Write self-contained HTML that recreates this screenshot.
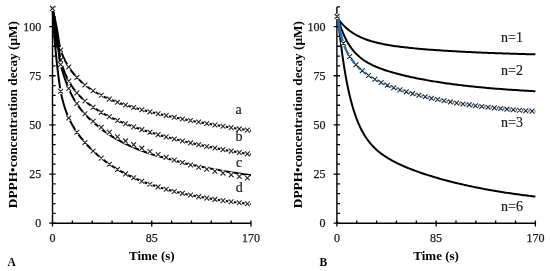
<!DOCTYPE html>
<html><head><meta charset="utf-8"><style>
html,body{margin:0;padding:0;background:#fff;}
body{width:550px;height:271px;overflow:hidden;}
svg{display:block;}
.ax{fill:none;stroke:#000;stroke-width:1.4;}
.tk{fill:none;stroke:#000;stroke-width:1.3;}
.tl{font-family:"Liberation Serif",serif;font-size:12px;fill:#1a1a1a;stroke:#1a1a1a;stroke-width:0.25px;}
.ti{font-family:"Liberation Serif",serif;font-size:13px;font-weight:bold;fill:#000;}
.pl{font-family:"Liberation Serif",serif;font-size:11.5px;font-weight:bold;fill:#000;}
.cl{font-family:"Liberation Serif",serif;font-size:14px;fill:#1a1a1a;stroke:#1a1a1a;stroke-width:0.2px;}
.fl{fill:none;stroke:#000;stroke-width:2;stroke-linejoin:round;}
.bl{fill:none;stroke:#000;stroke-width:2;stroke-linejoin:round;}
.bd{fill:none;stroke:#1f6fc2;stroke-width:2.4;}
.hl{fill:#fff;stroke:none;}
.mk{fill:none;stroke:#262626;stroke-width:1.1;}
</style></head><body>
<svg width="550" height="271" viewBox="0 0 550 271">
<path d="M52.5,6.94V223.2H251.00" class="ax"/>
<path d="M49.2,223.20H55.6M52.5,213.37H55.6M52.5,203.54H55.6M52.5,193.71H55.6M52.5,183.88H55.6M49.2,174.05H55.6M52.5,164.22H55.6M52.5,154.39H55.6M52.5,144.56H55.6M52.5,134.73H55.6M49.2,124.90H55.6M52.5,115.07H55.6M52.5,105.24H55.6M52.5,95.41H55.6M52.5,85.58H55.6M49.2,75.75H55.6M52.5,65.92H55.6M52.5,56.09H55.6M52.5,46.26H55.6M52.5,36.43H55.6M49.2,26.60H55.6M52.5,16.77H55.6M52.5,6.94H55.6M52.50,220.5V226.6M72.35,223.2V220.5M92.20,223.2V220.5M112.05,223.2V220.5M131.90,223.2V220.5M151.75,220.5V226.6M171.60,223.2V220.5M191.45,223.2V220.5M211.30,223.2V220.5M231.15,223.2V220.5M251.00,220.5V226.6" class="tk"/>
<text x="41.2" y="227.3" class="tl" text-anchor="end">0</text>
<text x="41.2" y="178.1" class="tl" text-anchor="end">25</text>
<text x="41.2" y="129.0" class="tl" text-anchor="end">50</text>
<text x="41.2" y="79.8" class="tl" text-anchor="end">75</text>
<text x="41.2" y="30.7" class="tl" text-anchor="end">100</text>
<text x="52.5" y="242.2" class="tl" text-anchor="middle">0</text>
<text x="151.8" y="242.2" class="tl" text-anchor="middle">85</text>
<text x="251.0" y="242.2" class="tl" text-anchor="middle">170</text>
<text x="151.8" y="260.3" class="ti" text-anchor="middle">Time (s)</text>
<path d="M336.9,6.94V223.2H535.40" class="ax"/>
<path d="M333.59999999999997,223.20H340.0M336.9,213.37H340.0M336.9,203.54H340.0M336.9,193.71H340.0M336.9,183.88H340.0M333.59999999999997,174.05H340.0M336.9,164.22H340.0M336.9,154.39H340.0M336.9,144.56H340.0M336.9,134.73H340.0M333.59999999999997,124.90H340.0M336.9,115.07H340.0M336.9,105.24H340.0M336.9,95.41H340.0M336.9,85.58H340.0M333.59999999999997,75.75H340.0M336.9,65.92H340.0M336.9,56.09H340.0M336.9,46.26H340.0M336.9,36.43H340.0M333.59999999999997,26.60H340.0M336.9,16.77H340.0M336.9,6.94H340.0M336.90,220.5V226.6M356.75,223.2V220.5M376.60,223.2V220.5M396.45,223.2V220.5M416.30,223.2V220.5M436.15,220.5V226.6M456.00,223.2V220.5M475.85,223.2V220.5M495.70,223.2V220.5M515.55,223.2V220.5M535.40,220.5V226.6" class="tk"/>
<text x="325.6" y="227.3" class="tl" text-anchor="end">0</text>
<text x="325.6" y="178.1" class="tl" text-anchor="end">25</text>
<text x="325.6" y="129.0" class="tl" text-anchor="end">50</text>
<text x="325.6" y="79.8" class="tl" text-anchor="end">75</text>
<text x="325.6" y="30.7" class="tl" text-anchor="end">100</text>
<text x="336.9" y="242.2" class="tl" text-anchor="middle">0</text>
<text x="436.1" y="242.2" class="tl" text-anchor="middle">85</text>
<text x="535.4" y="242.2" class="tl" text-anchor="middle">170</text>
<text x="436.1" y="260.3" class="ti" text-anchor="middle">Time (s)</text>
<text transform="translate(17.4,114.6) rotate(-90)" class="ti" style="font-size:13.3px" text-anchor="middle">DPPH•concentration decay (μM)</text>
<text transform="translate(301.8,114.6) rotate(-90)" class="ti" style="font-size:13.3px" text-anchor="middle">DPPH•concentration decay (μM)</text>
<text x="7.5" y="265.8" class="pl">A</text>
<text x="319.4" y="265.8" class="pl">B</text>
<path d="M52.50,8.32 L52.71,9.17 L52.92,10.03 L53.13,10.91 L53.34,11.80 L53.55,12.70 L53.76,13.61 L53.97,14.54 L54.18,15.47 L54.39,16.42 L54.60,17.38 L54.81,18.35 L55.01,19.33 L55.22,20.32 L55.43,21.32 L55.64,22.34 L55.85,23.36 L56.06,24.39 L56.27,25.43 L56.48,26.48 L56.69,27.57 L56.90,28.72 L57.11,29.92 L57.32,31.17 L57.53,32.45 L57.74,33.77 L57.95,35.10 L58.16,36.45 L58.37,37.79 L58.58,39.13 L58.79,40.45 L59.00,41.75 L59.21,43.01 L59.42,44.23 L59.63,45.40 L59.84,46.50 L60.04,47.54 L60.25,48.50 L60.46,49.37 L60.67,50.15 L61.06,51.25 L61.45,52.31 L61.84,53.33 L62.23,54.31 L62.62,55.26 L63.01,56.18 L63.40,57.06 L63.79,57.92 L64.18,58.75 L64.57,59.56 L64.95,60.35 L65.34,61.11 L65.73,61.85 L66.12,62.57 L66.51,63.27 L66.90,63.96 L67.29,64.63 L67.68,65.28 L68.07,65.91 L68.46,66.54 L68.85,67.15 L69.24,67.74 L69.63,68.33 L70.01,68.90 L70.40,69.46 L70.79,70.01 L71.18,70.54 L71.57,71.07 L71.96,71.59 L72.35,72.10 L72.74,72.60 L73.13,73.09 L73.52,73.57 L73.91,74.05 L74.30,74.51 L74.69,74.97 L75.07,75.42 L75.46,75.87 L75.85,76.30 L77.32,77.90 L78.80,79.40 L80.27,80.83 L81.74,82.18 L83.21,83.47 L84.68,84.69 L86.16,85.86 L87.63,86.98 L89.10,88.04 L90.57,89.06 L92.04,90.04 L93.51,90.97 L94.99,91.87 L96.46,92.74 L97.93,93.57 L99.40,94.37 L100.87,95.14 L102.35,95.88 L103.82,96.60 L105.29,97.29 L106.76,97.97 L108.23,98.62 L109.70,99.25 L111.18,99.86 L112.65,100.46 L114.12,101.03 L115.59,101.60 L117.06,102.15 L118.54,102.68 L120.01,103.20 L121.48,103.71 L122.95,104.21 L124.42,104.69 L125.89,105.17 L127.37,105.63 L128.84,106.09 L130.31,106.54 L131.78,106.98 L133.25,107.41 L134.73,107.83 L136.20,108.25 L137.67,108.66 L139.14,109.06 L140.61,109.46 L142.09,109.85 L143.56,110.24 L145.03,110.62 L146.50,110.99 L147.97,111.36 L149.44,111.73 L150.92,112.09 L152.39,112.45 L153.86,112.80 L155.33,113.15 L156.80,113.49 L158.28,113.83 L159.75,114.17 L161.22,114.50 L162.69,114.83 L164.16,115.16 L165.63,115.49 L167.11,115.81 L168.58,116.12 L170.05,116.44 L171.52,116.75 L172.99,117.06 L174.47,117.37 L175.94,117.67 L177.41,117.97 L178.88,118.27 L180.35,118.57 L181.82,118.87 L183.30,119.16 L184.77,119.45 L186.24,119.74 L187.71,120.02 L189.18,120.31 L190.66,120.59 L192.13,120.87 L193.60,121.14 L195.07,121.42 L196.54,121.69 L198.01,121.96 L199.49,122.23 L200.96,122.50 L202.43,122.77 L203.90,123.03 L205.37,123.30 L206.85,123.56 L208.32,123.82 L209.79,124.07 L211.26,124.33 L212.73,124.58 L214.20,124.83 L215.68,125.09 L217.15,125.33 L218.62,125.58 L220.09,125.83 L221.56,126.07 L223.04,126.31 L224.51,126.56 L225.98,126.80 L227.45,127.03 L228.92,127.27 L230.39,127.51 L231.87,127.74 L233.34,127.97 L234.81,128.20 L236.28,128.43 L237.75,128.66 L239.23,128.89 L240.70,129.11 L242.17,129.34 L243.64,129.56 L245.11,129.78 L246.58,130.00 L248.06,130.22 L249.53,130.43 L251.00,130.65" class="fl"/>
<path class="hl" d="M57.67,49.99a2.95,2.95 0 1,0 5.9,0a2.95,2.95 0 1,0 -5.9,0ZM65.79,66.98a2.95,2.95 0 1,0 5.9,0a2.95,2.95 0 1,0 -5.9,0ZM73.91,77.40a2.95,2.95 0 1,0 5.9,0a2.95,2.95 0 1,0 -5.9,0ZM82.03,84.93a2.95,2.95 0 1,0 5.9,0a2.95,2.95 0 1,0 -5.9,0ZM90.15,90.71a2.95,2.95 0 1,0 5.9,0a2.95,2.95 0 1,0 -5.9,0ZM98.27,95.32a2.95,2.95 0 1,0 5.9,0a2.95,2.95 0 1,0 -5.9,0ZM106.39,99.09a2.95,2.95 0 1,0 5.9,0a2.95,2.95 0 1,0 -5.9,0ZM114.51,102.29a2.95,2.95 0 1,0 5.9,0a2.95,2.95 0 1,0 -5.9,0ZM122.63,105.07a2.95,2.95 0 1,0 5.9,0a2.95,2.95 0 1,0 -5.9,0ZM130.75,107.54a2.95,2.95 0 1,0 5.9,0a2.95,2.95 0 1,0 -5.9,0ZM138.87,109.78a2.95,2.95 0 1,0 5.9,0a2.95,2.95 0 1,0 -5.9,0ZM146.99,111.85a2.95,2.95 0 1,0 5.9,0a2.95,2.95 0 1,0 -5.9,0ZM155.11,113.78a2.95,2.95 0 1,0 5.9,0a2.95,2.95 0 1,0 -5.9,0ZM163.23,115.60a2.95,2.95 0 1,0 5.9,0a2.95,2.95 0 1,0 -5.9,0ZM171.35,117.33a2.95,2.95 0 1,0 5.9,0a2.95,2.95 0 1,0 -5.9,0ZM179.47,118.98a2.95,2.95 0 1,0 5.9,0a2.95,2.95 0 1,0 -5.9,0ZM187.59,120.56a2.95,2.95 0 1,0 5.9,0a2.95,2.95 0 1,0 -5.9,0ZM195.71,122.08a2.95,2.95 0 1,0 5.9,0a2.95,2.95 0 1,0 -5.9,0ZM203.83,123.54a2.95,2.95 0 1,0 5.9,0a2.95,2.95 0 1,0 -5.9,0ZM211.95,124.95a2.95,2.95 0 1,0 5.9,0a2.95,2.95 0 1,0 -5.9,0ZM220.07,126.31a2.95,2.95 0 1,0 5.9,0a2.95,2.95 0 1,0 -5.9,0ZM228.19,127.62a2.95,2.95 0 1,0 5.9,0a2.95,2.95 0 1,0 -5.9,0ZM236.31,128.89a2.95,2.95 0 1,0 5.9,0a2.95,2.95 0 1,0 -5.9,0ZM244.43,130.12a2.95,2.95 0 1,0 5.9,0a2.95,2.95 0 1,0 -5.9,0Z"/>
<path d="M58.22,47.59L63.02,52.39M58.22,52.39L63.02,47.59M66.34,64.58L71.14,69.38M66.34,69.38L71.14,64.58M74.46,75.00L79.26,79.80M74.46,79.80L79.26,75.00M82.58,82.53L87.38,87.33M82.58,87.33L87.38,82.53M90.70,88.31L95.50,93.11M90.70,93.11L95.50,88.31M98.82,92.92L103.62,97.72M98.82,97.72L103.62,92.92M106.94,96.69L111.74,101.49M106.94,101.49L111.74,96.69M115.06,99.89L119.86,104.69M115.06,104.69L119.86,99.89M123.18,102.67L127.98,107.47M123.18,107.47L127.98,102.67M131.30,105.14L136.10,109.94M131.30,109.94L136.10,105.14M139.42,107.38L144.22,112.18M139.42,112.18L144.22,107.38M147.54,109.45L152.34,114.25M147.54,114.25L152.34,109.45M155.66,111.38L160.46,116.18M155.66,116.18L160.46,111.38M163.78,113.20L168.58,118.00M163.78,118.00L168.58,113.20M171.90,114.93L176.70,119.73M171.90,119.73L176.70,114.93M180.02,116.58L184.82,121.38M180.02,121.38L184.82,116.58M188.14,118.16L192.94,122.96M188.14,122.96L192.94,118.16M196.26,119.68L201.06,124.48M196.26,124.48L201.06,119.68M204.38,121.14L209.18,125.94M204.38,125.94L209.18,121.14M212.50,122.55L217.30,127.35M212.50,127.35L217.30,122.55M220.62,123.91L225.42,128.71M220.62,128.71L225.42,123.91M228.74,125.22L233.54,130.02M228.74,130.02L233.54,125.22M236.86,126.49L241.66,131.29M236.86,131.29L241.66,126.49M244.98,127.72L249.78,132.52M244.98,132.52L249.78,127.72" class="mk"/>
<path d="M52.50,8.32 L52.71,9.37 L52.92,10.44 L53.13,11.52 L53.34,12.61 L53.55,13.72 L53.76,14.85 L53.97,15.98 L54.18,17.14 L54.39,18.31 L54.60,19.49 L54.81,20.69 L55.01,21.90 L55.22,23.13 L55.43,24.37 L55.64,25.63 L55.85,26.90 L56.06,28.23 L56.27,29.62 L56.48,31.07 L56.69,32.57 L56.90,34.10 L57.11,35.68 L57.32,37.27 L57.53,38.89 L57.74,40.52 L57.95,42.15 L58.16,43.77 L58.37,45.38 L58.58,46.97 L58.79,48.54 L59.00,50.07 L59.21,51.55 L59.42,52.99 L59.63,54.36 L59.84,55.68 L60.04,56.91 L60.25,58.07 L60.46,59.13 L60.67,60.10 L61.06,61.53 L61.45,62.89 L61.84,64.20 L62.23,65.46 L62.62,66.68 L63.01,67.84 L63.40,68.97 L63.79,70.05 L64.18,71.10 L64.57,72.11 L64.95,73.09 L65.34,74.03 L65.73,74.94 L66.12,75.83 L66.51,76.68 L66.90,77.51 L67.29,78.32 L67.68,79.10 L68.07,79.86 L68.46,80.60 L68.85,81.32 L69.24,82.02 L69.63,82.70 L70.01,83.36 L70.40,84.01 L70.79,84.64 L71.18,85.25 L71.57,85.85 L71.96,86.44 L72.35,87.02 L72.74,87.58 L73.13,88.13 L73.52,88.67 L73.91,89.19 L74.30,89.71 L74.69,90.22 L75.07,90.71 L75.46,91.20 L75.85,91.68 L77.32,93.41 L78.80,95.04 L80.27,96.57 L81.74,98.02 L83.21,99.40 L84.68,100.71 L86.16,101.96 L87.63,103.16 L89.10,104.31 L90.57,105.42 L92.04,106.48 L93.51,107.50 L94.99,108.49 L96.46,109.45 L97.93,110.37 L99.40,111.27 L100.87,112.14 L102.35,112.98 L103.82,113.80 L105.29,114.60 L106.76,115.37 L108.23,116.13 L109.70,116.87 L111.18,117.59 L112.65,118.29 L114.12,118.97 L115.59,119.64 L117.06,120.30 L118.54,120.94 L120.01,121.57 L121.48,122.18 L122.95,122.79 L124.42,123.38 L125.89,123.96 L127.37,124.53 L128.84,125.09 L130.31,125.64 L131.78,126.18 L133.25,126.71 L134.73,127.24 L136.20,127.75 L137.67,128.26 L139.14,128.76 L140.61,129.25 L142.09,129.74 L143.56,130.22 L145.03,130.69 L146.50,131.16 L147.97,131.62 L149.44,132.07 L150.92,132.52 L152.39,132.96 L153.86,133.40 L155.33,133.83 L156.80,134.26 L158.28,134.68 L159.75,135.10 L161.22,135.51 L162.69,135.92 L164.16,136.32 L165.63,136.72 L167.11,137.12 L168.58,137.51 L170.05,137.89 L171.52,138.28 L172.99,138.66 L174.47,139.03 L175.94,139.40 L177.41,139.77 L178.88,140.13 L180.35,140.49 L181.82,140.85 L183.30,141.20 L184.77,141.55 L186.24,141.90 L187.71,142.24 L189.18,142.58 L190.66,142.92 L192.13,143.25 L193.60,143.58 L195.07,143.91 L196.54,144.24 L198.01,144.56 L199.49,144.88 L200.96,145.19 L202.43,145.51 L203.90,145.82 L205.37,146.12 L206.85,146.43 L208.32,146.73 L209.79,147.03 L211.26,147.33 L212.73,147.62 L214.20,147.91 L215.68,148.20 L217.15,148.49 L218.62,148.77 L220.09,149.06 L221.56,149.33 L223.04,149.61 L224.51,149.89 L225.98,150.16 L227.45,150.43 L228.92,150.70 L230.39,150.96 L231.87,151.22 L233.34,151.48 L234.81,151.74 L236.28,152.00 L237.75,152.25 L239.23,152.51 L240.70,152.76 L242.17,153.00 L243.64,153.25 L245.11,153.49 L246.58,153.73 L248.06,153.97 L249.53,154.21 L251.00,154.45" class="fl"/>
<path class="hl" d="M57.67,59.90a2.95,2.95 0 1,0 5.9,0a2.95,2.95 0 1,0 -5.9,0ZM65.79,81.12a2.95,2.95 0 1,0 5.9,0a2.95,2.95 0 1,0 -5.9,0ZM73.91,92.88a2.95,2.95 0 1,0 5.9,0a2.95,2.95 0 1,0 -5.9,0ZM82.03,100.97a2.95,2.95 0 1,0 5.9,0a2.95,2.95 0 1,0 -5.9,0ZM90.15,107.22a2.95,2.95 0 1,0 5.9,0a2.95,2.95 0 1,0 -5.9,0ZM98.27,112.34a2.95,2.95 0 1,0 5.9,0a2.95,2.95 0 1,0 -5.9,0ZM106.39,116.69a2.95,2.95 0 1,0 5.9,0a2.95,2.95 0 1,0 -5.9,0ZM114.51,120.47a2.95,2.95 0 1,0 5.9,0a2.95,2.95 0 1,0 -5.9,0ZM122.63,123.83a2.95,2.95 0 1,0 5.9,0a2.95,2.95 0 1,0 -5.9,0ZM130.75,126.87a2.95,2.95 0 1,0 5.9,0a2.95,2.95 0 1,0 -5.9,0ZM138.87,129.65a2.95,2.95 0 1,0 5.9,0a2.95,2.95 0 1,0 -5.9,0ZM146.99,132.22a2.95,2.95 0 1,0 5.9,0a2.95,2.95 0 1,0 -5.9,0ZM155.11,134.62a2.95,2.95 0 1,0 5.9,0a2.95,2.95 0 1,0 -5.9,0ZM163.23,136.87a2.95,2.95 0 1,0 5.9,0a2.95,2.95 0 1,0 -5.9,0ZM171.35,138.99a2.95,2.95 0 1,0 5.9,0a2.95,2.95 0 1,0 -5.9,0ZM179.47,140.99a2.95,2.95 0 1,0 5.9,0a2.95,2.95 0 1,0 -5.9,0ZM187.59,142.89a2.95,2.95 0 1,0 5.9,0a2.95,2.95 0 1,0 -5.9,0ZM195.71,144.70a2.95,2.95 0 1,0 5.9,0a2.95,2.95 0 1,0 -5.9,0ZM203.83,146.42a2.95,2.95 0 1,0 5.9,0a2.95,2.95 0 1,0 -5.9,0ZM211.95,148.05a2.95,2.95 0 1,0 5.9,0a2.95,2.95 0 1,0 -5.9,0ZM220.07,149.61a2.95,2.95 0 1,0 5.9,0a2.95,2.95 0 1,0 -5.9,0ZM228.19,151.09a2.95,2.95 0 1,0 5.9,0a2.95,2.95 0 1,0 -5.9,0ZM236.31,152.51a2.95,2.95 0 1,0 5.9,0a2.95,2.95 0 1,0 -5.9,0ZM244.43,153.86a2.95,2.95 0 1,0 5.9,0a2.95,2.95 0 1,0 -5.9,0Z"/>
<path d="M58.22,57.50L63.02,62.30M58.22,62.30L63.02,57.50M66.34,78.72L71.14,83.52M66.34,83.52L71.14,78.72M74.46,90.48L79.26,95.28M74.46,95.28L79.26,90.48M82.58,98.57L87.38,103.37M82.58,103.37L87.38,98.57M90.70,104.82L95.50,109.62M90.70,109.62L95.50,104.82M98.82,109.94L103.62,114.74M98.82,114.74L103.62,109.94M106.94,114.29L111.74,119.09M106.94,119.09L111.74,114.29M115.06,118.07L119.86,122.87M115.06,122.87L119.86,118.07M123.18,121.43L127.98,126.23M123.18,126.23L127.98,121.43M131.30,124.47L136.10,129.27M131.30,129.27L136.10,124.47M139.42,127.25L144.22,132.05M139.42,132.05L144.22,127.25M147.54,129.82L152.34,134.62M147.54,134.62L152.34,129.82M155.66,132.22L160.46,137.02M155.66,137.02L160.46,132.22M163.78,134.47L168.58,139.27M163.78,139.27L168.58,134.47M171.90,136.59L176.70,141.39M171.90,141.39L176.70,136.59M180.02,138.59L184.82,143.39M180.02,143.39L184.82,138.59M188.14,140.49L192.94,145.29M188.14,145.29L192.94,140.49M196.26,142.30L201.06,147.10M196.26,147.10L201.06,142.30M204.38,144.02L209.18,148.82M204.38,148.82L209.18,144.02M212.50,145.65L217.30,150.45M212.50,150.45L217.30,145.65M220.62,147.21L225.42,152.01M220.62,152.01L225.42,147.21M228.74,148.69L233.54,153.49M228.74,153.49L233.54,148.69M236.86,150.11L241.66,154.91M236.86,154.91L241.66,150.11M244.98,151.46L249.78,156.26M244.98,156.26L249.78,151.46" class="mk"/>
<path d="M52.50,8.32 L52.71,9.64 L52.92,10.98 L53.13,12.32 L53.34,13.66 L53.55,15.01 L53.76,16.37 L53.97,17.73 L54.18,19.10 L54.39,20.48 L54.60,21.87 L54.81,23.26 L55.01,24.66 L55.22,26.07 L55.43,27.50 L55.64,28.98 L55.85,30.50 L56.06,32.06 L56.27,33.65 L56.48,35.27 L56.69,36.91 L56.90,38.57 L57.11,40.24 L57.32,41.91 L57.53,43.59 L57.74,45.25 L57.95,46.91 L58.16,48.54 L58.37,50.16 L58.58,51.74 L58.79,53.29 L59.00,54.80 L59.21,56.27 L59.42,57.68 L59.63,59.03 L59.84,60.33 L60.04,61.55 L60.25,62.70 L60.46,63.77 L60.67,64.76 L61.06,66.26 L61.45,67.68 L61.84,69.06 L62.23,70.41 L62.62,71.72 L63.01,73.00 L63.40,74.25 L63.79,75.47 L64.18,76.66 L64.57,77.83 L64.95,78.96 L65.34,80.07 L65.73,81.15 L66.12,82.21 L66.51,83.24 L66.90,84.25 L67.29,85.24 L67.68,86.20 L68.07,87.14 L68.46,88.06 L68.85,88.96 L69.24,89.84 L69.63,90.70 L70.01,91.55 L70.40,92.37 L70.79,93.18 L71.18,93.97 L71.57,94.74 L71.96,95.50 L72.35,96.24 L72.74,96.97 L73.13,97.68 L73.52,98.38 L73.91,99.07 L74.30,99.74 L74.69,100.40 L75.07,101.04 L75.46,101.68 L75.85,102.30 L77.32,104.55 L78.80,106.65 L80.27,108.62 L81.74,110.48 L83.21,112.24 L84.68,113.90 L86.16,115.48 L87.63,116.99 L89.10,118.43 L90.57,119.81 L92.04,121.14 L93.51,122.42 L94.99,123.66 L96.46,124.87 L97.93,126.08 L99.40,127.29 L100.87,128.49 L102.35,129.68 L103.82,130.84 L105.29,131.96 L106.76,133.03 L108.23,134.06 L109.70,135.01 L111.18,135.93 L112.65,136.82 L114.12,137.69 L115.59,138.54 L117.06,139.37 L118.54,140.18 L120.01,140.97 L121.48,141.75 L122.95,142.50 L124.42,143.23 L125.89,143.94 L127.37,144.64 L128.84,145.32 L130.31,145.98 L131.78,146.63 L133.25,147.27 L134.73,147.90 L136.20,148.52 L137.67,149.12 L139.14,149.72 L140.61,150.30 L142.09,150.87 L143.56,151.42 L145.03,151.96 L146.50,152.48 L147.97,152.99 L149.44,153.48 L150.92,153.97 L152.39,154.44 L153.86,154.91 L155.33,155.37 L156.80,155.80 L158.28,156.21 L159.75,156.59 L161.22,156.96 L162.69,157.32 L164.16,157.67 L165.63,158.03 L167.11,158.39 L168.58,158.77 L170.05,159.17 L171.52,159.59 L172.99,160.02 L174.47,160.44 L175.94,160.87 L177.41,161.30 L178.88,161.73 L180.35,162.14 L181.82,162.56 L183.30,162.96 L184.77,163.35 L186.24,163.73 L187.71,164.09 L189.18,164.42 L190.66,164.73 L192.13,165.03 L193.60,165.31 L195.07,165.58 L196.54,165.84 L198.01,166.10 L199.49,166.36 L200.96,166.63 L202.43,166.91 L203.90,167.20 L205.37,167.50 L206.85,167.79 L208.32,168.08 L209.79,168.38 L211.26,168.67 L212.73,168.96 L214.20,169.24 L215.68,169.53 L217.15,169.81 L218.62,170.09 L220.09,170.37 L221.56,170.64 L223.04,170.90 L224.51,171.17 L225.98,171.42 L227.45,171.67 L228.92,171.92 L230.39,172.16 L231.87,172.40 L233.34,172.63 L234.81,172.86 L236.28,173.09 L237.75,173.31 L239.23,173.53 L240.70,173.75 L242.17,173.96 L243.64,174.17 L245.11,174.38 L246.58,174.58 L248.06,174.78 L249.53,174.98 L251.00,175.17" class="fl"/>
<path class="hl" d="M57.67,64.55a2.95,2.95 0 1,0 5.9,0a2.95,2.95 0 1,0 -5.9,0ZM65.79,88.55a2.95,2.95 0 1,0 5.9,0a2.95,2.95 0 1,0 -5.9,0ZM73.91,103.53a2.95,2.95 0 1,0 5.9,0a2.95,2.95 0 1,0 -5.9,0ZM82.03,113.69a2.95,2.95 0 1,0 5.9,0a2.95,2.95 0 1,0 -5.9,0ZM90.15,121.20a2.95,2.95 0 1,0 5.9,0a2.95,2.95 0 1,0 -5.9,0ZM98.27,127.21a2.95,2.95 0 1,0 5.9,0a2.95,2.95 0 1,0 -5.9,0ZM106.39,132.30a2.95,2.95 0 1,0 5.9,0a2.95,2.95 0 1,0 -5.9,0ZM114.51,136.81a2.95,2.95 0 1,0 5.9,0a2.95,2.95 0 1,0 -5.9,0ZM122.63,140.89a2.95,2.95 0 1,0 5.9,0a2.95,2.95 0 1,0 -5.9,0ZM130.75,144.66a2.95,2.95 0 1,0 5.9,0a2.95,2.95 0 1,0 -5.9,0ZM138.87,148.15a2.95,2.95 0 1,0 5.9,0a2.95,2.95 0 1,0 -5.9,0ZM146.99,151.42a2.95,2.95 0 1,0 5.9,0a2.95,2.95 0 1,0 -5.9,0ZM155.11,154.48a2.95,2.95 0 1,0 5.9,0a2.95,2.95 0 1,0 -5.9,0ZM163.23,157.35a2.95,2.95 0 1,0 5.9,0a2.95,2.95 0 1,0 -5.9,0ZM171.35,160.04a2.95,2.95 0 1,0 5.9,0a2.95,2.95 0 1,0 -5.9,0ZM179.47,162.57a2.95,2.95 0 1,0 5.9,0a2.95,2.95 0 1,0 -5.9,0ZM187.59,164.95a2.95,2.95 0 1,0 5.9,0a2.95,2.95 0 1,0 -5.9,0ZM195.71,167.18a2.95,2.95 0 1,0 5.9,0a2.95,2.95 0 1,0 -5.9,0ZM203.83,169.28a2.95,2.95 0 1,0 5.9,0a2.95,2.95 0 1,0 -5.9,0ZM211.95,171.25a2.95,2.95 0 1,0 5.9,0a2.95,2.95 0 1,0 -5.9,0ZM220.07,173.10a2.95,2.95 0 1,0 5.9,0a2.95,2.95 0 1,0 -5.9,0ZM228.19,174.84a2.95,2.95 0 1,0 5.9,0a2.95,2.95 0 1,0 -5.9,0ZM236.31,176.48a2.95,2.95 0 1,0 5.9,0a2.95,2.95 0 1,0 -5.9,0ZM244.43,178.02a2.95,2.95 0 1,0 5.9,0a2.95,2.95 0 1,0 -5.9,0Z"/>
<path d="M58.22,62.15L63.02,66.95M58.22,66.95L63.02,62.15M66.34,86.15L71.14,90.95M66.34,90.95L71.14,86.15M74.46,101.13L79.26,105.93M74.46,105.93L79.26,101.13M82.58,111.29L87.38,116.09M82.58,116.09L87.38,111.29M90.70,118.80L95.50,123.60M90.70,123.60L95.50,118.80M98.82,124.81L103.62,129.61M98.82,129.61L103.62,124.81M106.94,129.90L111.74,134.70M106.94,134.70L111.74,129.90M115.06,134.41L119.86,139.21M115.06,139.21L119.86,134.41M123.18,138.49L127.98,143.29M123.18,143.29L127.98,138.49M131.30,142.26L136.10,147.06M131.30,147.06L136.10,142.26M139.42,145.75L144.22,150.55M139.42,150.55L144.22,145.75M147.54,149.02L152.34,153.82M147.54,153.82L152.34,149.02M155.66,152.08L160.46,156.88M155.66,156.88L160.46,152.08M163.78,154.95L168.58,159.75M163.78,159.75L168.58,154.95M171.90,157.64L176.70,162.44M171.90,162.44L176.70,157.64M180.02,160.17L184.82,164.97M180.02,164.97L184.82,160.17M188.14,162.55L192.94,167.35M188.14,167.35L192.94,162.55M196.26,164.78L201.06,169.58M196.26,169.58L201.06,164.78M204.38,166.88L209.18,171.68M204.38,171.68L209.18,166.88M212.50,168.85L217.30,173.65M212.50,173.65L217.30,168.85M220.62,170.70L225.42,175.50M220.62,175.50L225.42,170.70M228.74,172.44L233.54,177.24M228.74,177.24L233.54,172.44M236.86,174.08L241.66,178.88M236.86,178.88L241.66,174.08M244.98,175.62L249.78,180.42M244.98,180.42L249.78,175.62" class="mk"/>
<path d="M52.50,8.32 L52.71,11.80 L52.92,15.20 L53.13,18.52 L53.34,21.74 L53.55,24.86 L53.76,27.89 L53.97,30.89 L54.18,33.85 L54.39,36.73 L54.60,39.49 L54.81,42.09 L55.01,44.50 L55.22,46.73 L55.43,48.92 L55.64,51.08 L55.85,53.20 L56.06,55.28 L56.27,57.33 L56.48,59.34 L56.69,61.32 L56.90,63.26 L57.11,65.16 L57.32,67.02 L57.53,68.85 L57.74,70.63 L57.95,72.38 L58.16,74.09 L58.37,75.76 L58.58,77.39 L58.79,78.99 L59.00,80.54 L59.21,82.05 L59.42,83.52 L59.63,84.95 L59.84,86.33 L60.04,87.68 L60.25,88.98 L60.46,90.24 L60.67,91.46 L61.06,93.37 L61.45,95.19 L61.84,96.92 L62.23,98.56 L62.62,100.13 L63.01,101.62 L63.40,103.05 L63.79,104.42 L64.18,105.73 L64.57,106.99 L64.95,108.20 L65.34,109.36 L65.73,110.48 L66.12,111.55 L66.51,112.59 L66.90,113.60 L67.29,114.57 L67.68,115.51 L68.07,116.42 L68.46,117.31 L68.85,118.17 L69.24,119.01 L69.63,119.82 L70.01,120.62 L70.40,121.39 L70.79,122.15 L71.18,122.88 L71.57,123.61 L71.96,124.31 L72.35,125.00 L72.74,125.68 L73.13,126.35 L73.52,127.00 L73.91,127.64 L74.30,128.27 L74.69,128.89 L75.07,129.50 L75.46,130.09 L75.85,130.68 L77.32,132.84 L78.80,134.88 L80.27,136.83 L81.74,138.69 L83.21,140.49 L84.68,142.21 L86.16,143.87 L87.63,145.48 L89.10,147.03 L90.57,148.53 L92.04,149.99 L93.51,151.40 L94.99,152.77 L96.46,154.09 L97.93,155.38 L99.40,156.63 L100.87,157.84 L102.35,159.02 L103.82,160.16 L105.29,161.28 L106.76,162.36 L108.23,163.41 L109.70,164.43 L111.18,165.43 L112.65,166.40 L114.12,167.34 L115.59,168.26 L117.06,169.15 L118.54,170.02 L120.01,170.87 L121.48,171.69 L122.95,172.50 L124.42,173.28 L125.89,174.05 L127.37,174.79 L128.84,175.52 L130.31,176.23 L131.78,176.92 L133.25,177.60 L134.73,178.26 L136.20,178.90 L137.67,179.53 L139.14,180.14 L140.61,180.74 L142.09,181.33 L143.56,181.90 L145.03,182.46 L146.50,183.01 L147.97,183.54 L149.44,184.07 L150.92,184.58 L152.39,185.08 L153.86,185.57 L155.33,186.05 L156.80,186.52 L158.28,186.98 L159.75,187.43 L161.22,187.87 L162.69,188.30 L164.16,188.73 L165.63,189.14 L167.11,189.55 L168.58,189.95 L170.05,190.34 L171.52,190.72 L172.99,191.10 L174.47,191.47 L175.94,191.83 L177.41,192.18 L178.88,192.53 L180.35,192.88 L181.82,193.21 L183.30,193.54 L184.77,193.87 L186.24,194.18 L187.71,194.50 L189.18,194.80 L190.66,195.11 L192.13,195.40 L193.60,195.69 L195.07,195.98 L196.54,196.26 L198.01,196.54 L199.49,196.81 L200.96,197.08 L202.43,197.34 L203.90,197.60 L205.37,197.86 L206.85,198.11 L208.32,198.35 L209.79,198.60 L211.26,198.83 L212.73,199.07 L214.20,199.30 L215.68,199.53 L217.15,199.75 L218.62,199.98 L220.09,200.19 L221.56,200.41 L223.04,200.62 L224.51,200.83 L225.98,201.03 L227.45,201.23 L228.92,201.43 L230.39,201.63 L231.87,201.82 L233.34,202.01 L234.81,202.20 L236.28,202.38 L237.75,202.56 L239.23,202.74 L240.70,202.92 L242.17,203.10 L243.64,203.27 L245.11,203.44 L246.58,203.60 L248.06,203.77 L249.53,203.93 L251.00,204.09" class="fl"/>
<path class="hl" d="M57.67,91.19a2.95,2.95 0 1,0 5.9,0a2.95,2.95 0 1,0 -5.9,0ZM65.79,117.94a2.95,2.95 0 1,0 5.9,0a2.95,2.95 0 1,0 -5.9,0ZM73.91,132.17a2.95,2.95 0 1,0 5.9,0a2.95,2.95 0 1,0 -5.9,0ZM82.03,142.55a2.95,2.95 0 1,0 5.9,0a2.95,2.95 0 1,0 -5.9,0ZM90.15,151.01a2.95,2.95 0 1,0 5.9,0a2.95,2.95 0 1,0 -5.9,0ZM98.27,158.12a2.95,2.95 0 1,0 5.9,0a2.95,2.95 0 1,0 -5.9,0ZM106.39,164.18a2.95,2.95 0 1,0 5.9,0a2.95,2.95 0 1,0 -5.9,0ZM114.51,169.39a2.95,2.95 0 1,0 5.9,0a2.95,2.95 0 1,0 -5.9,0ZM122.63,173.89a2.95,2.95 0 1,0 5.9,0a2.95,2.95 0 1,0 -5.9,0ZM130.75,177.80a2.95,2.95 0 1,0 5.9,0a2.95,2.95 0 1,0 -5.9,0ZM138.87,181.22a2.95,2.95 0 1,0 5.9,0a2.95,2.95 0 1,0 -5.9,0ZM146.99,184.24a2.95,2.95 0 1,0 5.9,0a2.95,2.95 0 1,0 -5.9,0ZM155.11,186.91a2.95,2.95 0 1,0 5.9,0a2.95,2.95 0 1,0 -5.9,0ZM163.23,189.29a2.95,2.95 0 1,0 5.9,0a2.95,2.95 0 1,0 -5.9,0ZM171.35,191.43a2.95,2.95 0 1,0 5.9,0a2.95,2.95 0 1,0 -5.9,0ZM179.47,193.35a2.95,2.95 0 1,0 5.9,0a2.95,2.95 0 1,0 -5.9,0ZM187.59,195.08a2.95,2.95 0 1,0 5.9,0a2.95,2.95 0 1,0 -5.9,0ZM195.71,196.66a2.95,2.95 0 1,0 5.9,0a2.95,2.95 0 1,0 -5.9,0ZM203.83,198.10a2.95,2.95 0 1,0 5.9,0a2.95,2.95 0 1,0 -5.9,0ZM211.95,199.41a2.95,2.95 0 1,0 5.9,0a2.95,2.95 0 1,0 -5.9,0ZM220.07,200.62a2.95,2.95 0 1,0 5.9,0a2.95,2.95 0 1,0 -5.9,0ZM228.19,201.73a2.95,2.95 0 1,0 5.9,0a2.95,2.95 0 1,0 -5.9,0ZM236.31,202.75a2.95,2.95 0 1,0 5.9,0a2.95,2.95 0 1,0 -5.9,0ZM244.43,203.69a2.95,2.95 0 1,0 5.9,0a2.95,2.95 0 1,0 -5.9,0Z"/>
<path d="M58.22,88.79L63.02,93.59M58.22,93.59L63.02,88.79M66.34,115.54L71.14,120.34M66.34,120.34L71.14,115.54M74.46,129.77L79.26,134.57M74.46,134.57L79.26,129.77M82.58,140.15L87.38,144.95M82.58,144.95L87.38,140.15M90.70,148.61L95.50,153.41M90.70,153.41L95.50,148.61M98.82,155.72L103.62,160.52M98.82,160.52L103.62,155.72M106.94,161.78L111.74,166.58M106.94,166.58L111.74,161.78M115.06,166.99L119.86,171.79M115.06,171.79L119.86,166.99M123.18,171.49L127.98,176.29M123.18,176.29L127.98,171.49M131.30,175.40L136.10,180.20M131.30,180.20L136.10,175.40M139.42,178.82L144.22,183.62M139.42,183.62L144.22,178.82M147.54,181.84L152.34,186.64M147.54,186.64L152.34,181.84M155.66,184.51L160.46,189.31M155.66,189.31L160.46,184.51M163.78,186.89L168.58,191.69M163.78,191.69L168.58,186.89M171.90,189.03L176.70,193.83M171.90,193.83L176.70,189.03M180.02,190.95L184.82,195.75M180.02,195.75L184.82,190.95M188.14,192.68L192.94,197.48M188.14,197.48L192.94,192.68M196.26,194.26L201.06,199.06M196.26,199.06L201.06,194.26M204.38,195.70L209.18,200.50M204.38,200.50L209.18,195.70M212.50,197.01L217.30,201.81M212.50,201.81L217.30,197.01M220.62,198.22L225.42,203.02M220.62,203.02L225.42,198.22M228.74,199.33L233.54,204.13M228.74,204.13L233.54,199.33M236.86,200.35L241.66,205.15M236.86,205.15L241.66,200.35M244.98,201.29L249.78,206.09M244.98,206.09L249.78,201.29" class="mk"/>
<path d="M52.50,8.32 L52.84,9.72 L53.19,11.16 L53.53,12.63 L53.88,14.14 L54.22,15.67 L54.56,17.24 L54.91,18.83 L55.25,20.46 L55.60,22.11 L55.94,23.79 L56.29,25.50 L56.63,27.24 L56.97,29.13 L57.32,31.16 L57.66,33.28 L58.01,35.47 L58.35,37.68 L58.69,39.87 L59.04,42.00 L55.54,49.97 L55.38,48.32 L55.22,46.64 L55.06,44.95 L54.90,43.17 L54.74,41.26 L54.58,39.25 L54.42,37.15 L54.26,34.98 L54.10,32.75 L53.94,30.48 L53.78,28.19 L53.62,25.89 L53.46,23.55 L53.30,21.14 L53.14,18.68 L52.98,16.16 L52.82,13.59 L52.66,10.98 L52.50,8.32Z" fill="#000"/>
<path class="hl" d="M49.90,8.40a2.6,2.6 0 1,0 5.2,0a2.6,2.6 0 1,0 -5.2,0Z"/>
<path d="M50.10,6.00L54.90,10.80M50.10,10.80L54.90,6.00" class="mk"/>
<text x="235.5" y="113.6" class="cl">a</text>
<text x="235.5" y="140.6" class="cl">b</text>
<text x="236" y="166.6" class="cl">c</text>
<text x="235.8" y="191.9" class="cl">d</text>
<path d="M338.20,19.19 L338.48,19.55 L338.76,19.92 L339.04,20.27 L339.32,20.62 L339.60,20.97 L339.87,21.31 L340.15,21.65 L340.43,21.98 L340.71,22.31 L340.99,22.63 L341.27,22.95 L341.55,23.27 L341.83,23.58 L342.11,23.88 L342.39,24.18 L342.67,24.48 L342.95,24.77 L343.22,25.06 L343.50,25.35 L343.78,25.63 L344.06,25.91 L344.34,26.18 L344.62,26.45 L344.90,26.71 L345.18,26.98 L345.46,27.24 L345.74,27.49 L346.02,27.74 L346.30,27.99 L346.57,28.24 L346.85,28.48 L347.13,28.72 L347.41,28.95 L347.69,29.18 L347.97,29.41 L348.25,29.64 L348.53,29.86 L348.81,30.08 L349.09,30.30 L349.37,30.51 L349.65,30.73 L349.92,30.93 L350.20,31.14 L350.48,31.34 L350.76,31.54 L351.04,31.74 L351.32,31.94 L351.60,32.13 L351.88,32.32 L352.16,32.51 L352.44,32.69 L352.72,32.88 L353.00,33.06 L353.27,33.24 L353.55,33.41 L353.83,33.59 L354.11,33.76 L354.39,33.93 L354.67,34.10 L354.95,34.26 L355.23,34.42 L355.51,34.59 L355.79,34.74 L356.07,34.90 L356.34,35.06 L356.62,35.21 L356.90,35.36 L357.18,35.51 L357.46,35.66 L357.74,35.80 L358.02,35.95 L358.30,36.09 L358.58,36.23 L358.86,36.37 L359.14,36.51 L359.42,36.64 L359.69,36.78 L359.97,36.91 L360.25,37.04 L361.72,37.70 L363.20,38.33 L364.67,38.91 L366.14,39.47 L367.61,39.99 L369.08,40.48 L370.56,40.94 L372.03,41.38 L373.50,41.80 L374.97,42.19 L376.44,42.57 L377.91,42.92 L379.39,43.26 L380.86,43.59 L382.33,43.89 L383.80,44.19 L385.27,44.47 L386.75,44.74 L388.22,45.00 L389.69,45.25 L391.16,45.48 L392.63,45.71 L394.10,45.93 L395.58,46.15 L397.05,46.35 L398.52,46.55 L399.99,46.74 L401.46,46.92 L402.94,47.10 L404.41,47.28 L405.88,47.45 L407.35,47.61 L408.82,47.77 L410.29,47.93 L411.77,48.08 L413.24,48.22 L414.71,48.37 L416.18,48.51 L417.65,48.64 L419.13,48.77 L420.60,48.90 L422.07,49.03 L423.54,49.16 L425.01,49.28 L426.49,49.40 L427.96,49.51 L429.43,49.63 L430.90,49.74 L432.37,49.85 L433.84,49.96 L435.32,50.06 L436.79,50.17 L438.26,50.27 L439.73,50.37 L441.20,50.46 L442.68,50.56 L444.15,50.65 L445.62,50.75 L447.09,50.84 L448.56,50.93 L450.03,51.02 L451.51,51.10 L452.98,51.19 L454.45,51.27 L455.92,51.35 L457.39,51.44 L458.87,51.52 L460.34,51.59 L461.81,51.67 L463.28,51.75 L464.75,51.82 L466.22,51.90 L467.70,51.97 L469.17,52.04 L470.64,52.11 L472.11,52.18 L473.58,52.25 L475.06,52.32 L476.53,52.38 L478.00,52.45 L479.47,52.51 L480.94,52.57 L482.41,52.64 L483.89,52.70 L485.36,52.76 L486.83,52.82 L488.30,52.88 L489.77,52.93 L491.25,52.99 L492.72,53.05 L494.19,53.10 L495.66,53.16 L497.13,53.21 L498.60,53.26 L500.08,53.31 L501.55,53.37 L503.02,53.42 L504.49,53.47 L505.96,53.52 L507.44,53.56 L508.91,53.61 L510.38,53.66 L511.85,53.70 L513.32,53.75 L514.79,53.79 L516.27,53.84 L517.74,53.88 L519.21,53.93 L520.68,53.97 L522.15,54.01 L523.63,54.05 L525.10,54.09 L526.57,54.13 L528.04,54.17 L529.51,54.21 L530.98,54.25 L532.46,54.28 L533.93,54.32 L535.40,54.36 M338.20,19.19 L338.48,20.13 L338.76,21.05 L339.04,21.95 L339.32,22.84 L339.60,23.70 L339.87,24.55 L340.15,25.38 L340.43,26.19 L340.71,26.99 L340.99,27.77 L341.27,28.53 L341.55,29.28 L341.83,30.01 L342.11,30.73 L342.39,31.44 L342.67,32.13 L342.95,32.81 L343.22,33.47 L343.50,34.12 L343.78,34.76 L344.06,35.38 L344.34,35.99 L344.62,36.60 L344.90,37.18 L345.18,37.76 L345.46,38.33 L345.74,38.88 L346.02,39.43 L346.30,39.96 L346.57,40.49 L346.85,41.00 L347.13,41.51 L347.41,42.00 L347.69,42.49 L347.97,42.97 L348.25,43.44 L348.53,43.89 L348.81,44.35 L349.09,44.79 L349.37,45.22 L349.65,45.65 L349.92,46.07 L350.20,46.48 L350.48,46.89 L350.76,47.28 L351.04,47.67 L351.32,48.06 L351.60,48.43 L351.88,48.80 L352.16,49.17 L352.44,49.53 L352.72,49.88 L353.00,50.22 L353.27,50.56 L353.55,50.90 L353.83,51.22 L354.11,51.55 L354.39,51.86 L354.67,52.18 L354.95,52.48 L355.23,52.79 L355.51,53.08 L355.79,53.38 L356.07,53.66 L356.34,53.95 L356.62,54.23 L356.90,54.50 L357.18,54.77 L357.46,55.04 L357.74,55.30 L358.02,55.56 L358.30,55.81 L358.58,56.06 L358.86,56.31 L359.14,56.55 L359.42,56.79 L359.69,57.03 L359.97,57.26 L360.25,57.49 L361.72,58.64 L363.20,59.72 L364.67,60.72 L366.14,61.66 L367.61,62.54 L369.08,63.36 L370.56,64.15 L372.03,64.88 L373.50,65.59 L374.97,66.25 L376.44,66.89 L377.91,67.50 L379.39,68.08 L380.86,68.64 L382.33,69.18 L383.80,69.70 L385.27,70.20 L386.75,70.68 L388.22,71.15 L389.69,71.61 L391.16,72.05 L392.63,72.48 L394.10,72.90 L395.58,73.31 L397.05,73.71 L398.52,74.09 L399.99,74.47 L401.46,74.84 L402.94,75.21 L404.41,75.56 L405.88,75.91 L407.35,76.25 L408.82,76.58 L410.29,76.91 L411.77,77.23 L413.24,77.54 L414.71,77.85 L416.18,78.15 L417.65,78.45 L419.13,78.74 L420.60,79.02 L422.07,79.30 L423.54,79.58 L425.01,79.85 L426.49,80.12 L427.96,80.38 L429.43,80.64 L430.90,80.89 L432.37,81.14 L433.84,81.38 L435.32,81.62 L436.79,81.85 L438.26,82.09 L439.73,82.31 L441.20,82.54 L442.68,82.76 L444.15,82.97 L445.62,83.19 L447.09,83.39 L448.56,83.60 L450.03,83.80 L451.51,84.00 L452.98,84.20 L454.45,84.39 L455.92,84.58 L457.39,84.76 L458.87,84.95 L460.34,85.12 L461.81,85.30 L463.28,85.47 L464.75,85.65 L466.22,85.81 L467.70,85.98 L469.17,86.14 L470.64,86.30 L472.11,86.46 L473.58,86.61 L475.06,86.76 L476.53,86.91 L478.00,87.06 L479.47,87.20 L480.94,87.34 L482.41,87.48 L483.89,87.62 L485.36,87.76 L486.83,87.89 L488.30,88.02 L489.77,88.15 L491.25,88.27 L492.72,88.40 L494.19,88.52 L495.66,88.64 L497.13,88.76 L498.60,88.87 L500.08,88.99 L501.55,89.10 L503.02,89.21 L504.49,89.32 L505.96,89.42 L507.44,89.53 L508.91,89.63 L510.38,89.73 L511.85,89.83 L513.32,89.93 L514.79,90.03 L516.27,90.12 L517.74,90.22 L519.21,90.31 L520.68,90.40 L522.15,90.49 L523.63,90.57 L525.10,90.66 L526.57,90.74 L528.04,90.83 L529.51,90.91 L530.98,90.99 L532.46,91.07 L533.93,91.14 L535.40,91.22 M338.20,19.20 L338.48,22.29 L338.76,25.07 L339.04,27.71 L339.32,30.27 L339.60,32.77 L339.87,35.21 L340.15,37.60 L340.43,39.95 L340.71,42.24 L340.99,44.49 L341.27,46.69 L341.55,48.84 L341.83,50.95 L342.11,53.01 L342.39,55.04 L342.67,57.02 L342.95,58.96 L343.22,60.86 L343.50,62.72 L343.78,64.54 L344.06,66.33 L344.34,68.08 L344.62,69.79 L344.90,71.47 L345.18,73.12 L345.46,74.73 L345.74,76.31 L346.02,77.85 L346.30,79.37 L346.57,80.86 L346.85,82.31 L347.13,83.74 L347.41,85.14 L347.69,86.51 L347.97,87.85 L348.25,89.17 L348.53,90.46 L348.81,91.72 L349.09,92.96 L349.37,94.18 L349.65,95.37 L349.92,96.54 L350.20,97.69 L350.48,98.81 L350.76,99.91 L351.04,101.00 L351.32,102.06 L351.60,103.10 L351.88,104.12 L352.16,105.12 L352.44,106.10 L352.72,107.06 L353.00,108.01 L353.27,108.93 L353.55,109.84 L353.83,110.73 L354.11,111.61 L354.39,112.47 L354.67,113.31 L354.95,114.14 L355.23,114.95 L355.51,115.75 L355.79,116.54 L356.07,117.30 L356.34,118.06 L356.62,118.80 L356.90,119.53 L357.18,120.24 L357.46,120.95 L357.74,121.64 L358.02,122.31 L358.30,122.98 L358.58,123.63 L358.86,124.28 L359.14,124.91 L359.42,125.53 L359.69,126.14 L359.97,126.74 L360.25,127.33 L361.72,130.27 L363.20,132.97 L364.67,135.45 L366.14,137.73 L367.61,139.83 L369.08,141.77 L370.56,143.58 L372.03,145.26 L373.50,146.82 L374.97,148.29 L376.44,149.66 L377.91,150.95 L379.39,152.17 L380.86,153.33 L382.33,154.42 L383.80,155.46 L385.27,156.46 L386.75,157.41 L388.22,158.32 L389.69,159.19 L391.16,160.03 L392.63,160.84 L394.10,161.62 L395.58,162.38 L397.05,163.11 L398.52,163.82 L399.99,164.51 L401.46,165.19 L402.94,165.84 L404.41,166.48 L405.88,167.11 L407.35,167.72 L408.82,168.31 L410.29,168.90 L411.77,169.47 L413.24,170.04 L414.71,170.59 L416.18,171.13 L417.65,171.66 L419.13,172.18 L420.60,172.69 L422.07,173.20 L423.54,173.70 L425.01,174.18 L426.49,174.67 L427.96,175.14 L429.43,175.60 L430.90,176.06 L432.37,176.51 L433.84,176.96 L435.32,177.40 L436.79,177.83 L438.26,178.26 L439.73,178.68 L441.20,179.09 L442.68,179.50 L444.15,179.90 L445.62,180.30 L447.09,180.69 L448.56,181.07 L450.03,181.45 L451.51,181.83 L452.98,182.20 L454.45,182.56 L455.92,182.92 L457.39,183.28 L458.87,183.63 L460.34,183.97 L461.81,184.31 L463.28,184.65 L464.75,184.98 L466.22,185.31 L467.70,185.63 L469.17,185.95 L470.64,186.26 L472.11,186.57 L473.58,186.87 L475.06,187.18 L476.53,187.47 L478.00,187.77 L479.47,188.06 L480.94,188.34 L482.41,188.62 L483.89,188.90 L485.36,189.17 L486.83,189.44 L488.30,189.71 L489.77,189.97 L491.25,190.23 L492.72,190.49 L494.19,190.74 L495.66,190.99 L497.13,191.24 L498.60,191.48 L500.08,191.72 L501.55,191.95 L503.02,192.19 L504.49,192.42 L505.96,192.64 L507.44,192.87 L508.91,193.09 L510.38,193.30 L511.85,193.52 L513.32,193.73 L514.79,193.94 L516.27,194.15 L517.74,194.35 L519.21,194.55 L520.68,194.75 L522.15,194.94 L523.63,195.14 L525.10,195.33 L526.57,195.51 L528.04,195.70 L529.51,195.88 L530.98,196.06 L532.46,196.24 L533.93,196.41 L535.40,196.59" class="bl"/>
<path d="M338.20,19.20 L338.48,21.20 L338.76,23.09 L339.04,24.87 L339.32,26.54 L339.60,28.12 L339.87,29.62 L340.15,31.04 L340.43,32.38 L340.71,33.66 L340.99,34.87 L341.27,36.02 L341.55,37.12 L341.83,38.18 L342.11,39.18 L342.39,40.14 L342.67,41.07 L342.95,41.95 L343.22,42.80 L343.50,43.62 L343.78,44.41 L344.06,45.17 L344.34,45.90 L344.62,46.61 L344.90,47.30 L345.18,47.96 L345.46,48.61 L345.74,49.23 L346.02,49.84 L346.30,50.43 L346.57,51.01 L346.85,51.57 L347.13,52.11 L347.41,52.64 L347.69,53.16 L347.97,53.67 L348.25,54.17 L348.53,54.65 L348.81,55.13 L349.09,55.59 L349.37,56.04 L349.65,56.49 L349.92,56.93 L350.20,57.36 L350.48,57.78 L350.76,58.19 L351.04,58.60 L351.32,58.99 L351.60,59.38 L351.88,59.77 L352.16,60.15 L352.44,60.52 L352.72,60.89 L353.00,61.25 L353.27,61.60 L353.55,61.95 L353.83,62.30 L354.11,62.64 L354.39,62.97 L354.67,63.30 L354.95,63.62 L355.23,63.94 L355.51,64.26 L355.79,64.57 L356.07,64.88 L356.34,65.18 L356.62,65.48 L356.90,65.78 L357.18,66.07 L357.46,66.35 L357.74,66.64 L358.02,66.92 L358.30,67.20 L358.58,67.47 L358.86,67.74 L359.14,68.01 L359.42,68.27 L359.69,68.53 L359.97,68.79 L360.25,69.04 L361.72,70.34 L363.20,71.56 L364.67,72.71 L366.14,73.81 L367.61,74.84 L369.08,75.83 L370.56,76.78 L372.03,77.68 L373.50,78.54 L374.97,79.36 L376.44,80.16 L377.91,80.92 L379.39,81.66 L380.86,82.37 L382.33,83.05 L383.80,83.71 L385.27,84.35 L386.75,84.98 L388.22,85.58 L389.69,86.17 L391.16,86.74 L392.63,87.29 L394.10,87.83 L395.58,88.36 L397.05,88.87 L398.52,89.37 L399.99,89.86 L401.46,90.34 L402.94,90.81 L404.41,91.27 L405.88,91.72 L407.35,92.16 L408.82,92.59 L410.29,93.01 L411.77,93.42 L413.24,93.82 L414.71,94.22 L416.18,94.61 L417.65,94.99 L419.13,95.37 L420.60,95.73 L422.07,96.09 L423.54,96.45 L425.01,96.80 L426.49,97.14 L427.96,97.47 L429.43,97.80 L430.90,98.13 L432.37,98.44 L433.84,98.76 L435.32,99.06 L436.79,99.37 L438.26,99.66 L439.73,99.95 L441.20,100.24 L442.68,100.52 L444.15,100.80 L445.62,101.07 L447.09,101.34 L448.56,101.60 L450.03,101.86 L451.51,102.11 L452.98,102.36 L454.45,102.61 L455.92,102.85 L457.39,103.09 L458.87,103.32 L460.34,103.55 L461.81,103.78 L463.28,104.00 L464.75,104.22 L466.22,104.43 L467.70,104.64 L469.17,104.85 L470.64,105.05 L472.11,105.25 L473.58,105.45 L475.06,105.64 L476.53,105.83 L478.00,106.02 L479.47,106.21 L480.94,106.39 L482.41,106.57 L483.89,106.74 L485.36,106.91 L486.83,107.08 L488.30,107.25 L489.77,107.41 L491.25,107.58 L492.72,107.73 L494.19,107.89 L495.66,108.04 L497.13,108.19 L498.60,108.34 L500.08,108.49 L501.55,108.63 L503.02,108.77 L504.49,108.91 L505.96,109.05 L507.44,109.18 L508.91,109.31 L510.38,109.44 L511.85,109.57 L513.32,109.70 L514.79,109.82 L516.27,109.94 L517.74,110.06 L519.21,110.18 L520.68,110.29 L522.15,110.41 L523.63,110.52 L525.10,110.63 L526.57,110.74 L528.04,110.84 L529.51,110.95 L530.98,111.05 L532.46,111.15 L533.93,111.25 L535.40,111.35" class="bd"/>
<path class="hl" d="M334.50,16.40a2.6,2.6 0 1,0 5.2,0a2.6,2.6 0 1,0 -5.2,0ZM340.79,43.29a2.6,2.6 0 1,0 5.2,0a2.6,2.6 0 1,0 -5.2,0ZM347.08,56.55a2.6,2.6 0 1,0 5.2,0a2.6,2.6 0 1,0 -5.2,0ZM353.37,64.77a2.6,2.6 0 1,0 5.2,0a2.6,2.6 0 1,0 -5.2,0ZM359.66,70.79a2.6,2.6 0 1,0 5.2,0a2.6,2.6 0 1,0 -5.2,0ZM365.95,75.48a2.6,2.6 0 1,0 5.2,0a2.6,2.6 0 1,0 -5.2,0ZM372.24,79.29a2.6,2.6 0 1,0 5.2,0a2.6,2.6 0 1,0 -5.2,0ZM378.53,82.49a2.6,2.6 0 1,0 5.2,0a2.6,2.6 0 1,0 -5.2,0ZM384.82,85.26a2.6,2.6 0 1,0 5.2,0a2.6,2.6 0 1,0 -5.2,0ZM391.11,87.69a2.6,2.6 0 1,0 5.2,0a2.6,2.6 0 1,0 -5.2,0ZM397.40,89.87a2.6,2.6 0 1,0 5.2,0a2.6,2.6 0 1,0 -5.2,0ZM403.69,91.84a2.6,2.6 0 1,0 5.2,0a2.6,2.6 0 1,0 -5.2,0ZM409.98,93.65a2.6,2.6 0 1,0 5.2,0a2.6,2.6 0 1,0 -5.2,0ZM416.27,95.30a2.6,2.6 0 1,0 5.2,0a2.6,2.6 0 1,0 -5.2,0ZM422.56,96.83a2.6,2.6 0 1,0 5.2,0a2.6,2.6 0 1,0 -5.2,0ZM428.85,98.25a2.6,2.6 0 1,0 5.2,0a2.6,2.6 0 1,0 -5.2,0ZM435.15,99.56a2.6,2.6 0 1,0 5.2,0a2.6,2.6 0 1,0 -5.2,0ZM441.44,100.78a2.6,2.6 0 1,0 5.2,0a2.6,2.6 0 1,0 -5.2,0ZM447.73,101.91a2.6,2.6 0 1,0 5.2,0a2.6,2.6 0 1,0 -5.2,0ZM454.02,102.96a2.6,2.6 0 1,0 5.2,0a2.6,2.6 0 1,0 -5.2,0ZM460.31,103.94a2.6,2.6 0 1,0 5.2,0a2.6,2.6 0 1,0 -5.2,0ZM466.60,104.85a2.6,2.6 0 1,0 5.2,0a2.6,2.6 0 1,0 -5.2,0ZM472.89,105.70a2.6,2.6 0 1,0 5.2,0a2.6,2.6 0 1,0 -5.2,0ZM479.18,106.49a2.6,2.6 0 1,0 5.2,0a2.6,2.6 0 1,0 -5.2,0ZM485.47,107.22a2.6,2.6 0 1,0 5.2,0a2.6,2.6 0 1,0 -5.2,0ZM491.76,107.91a2.6,2.6 0 1,0 5.2,0a2.6,2.6 0 1,0 -5.2,0ZM498.05,108.54a2.6,2.6 0 1,0 5.2,0a2.6,2.6 0 1,0 -5.2,0ZM504.34,109.14a2.6,2.6 0 1,0 5.2,0a2.6,2.6 0 1,0 -5.2,0ZM510.63,109.69a2.6,2.6 0 1,0 5.2,0a2.6,2.6 0 1,0 -5.2,0ZM516.92,110.20a2.6,2.6 0 1,0 5.2,0a2.6,2.6 0 1,0 -5.2,0ZM523.21,110.68a2.6,2.6 0 1,0 5.2,0a2.6,2.6 0 1,0 -5.2,0ZM529.50,111.13a2.6,2.6 0 1,0 5.2,0a2.6,2.6 0 1,0 -5.2,0Z"/>
<path d="M334.70,14.00L339.50,18.80M334.70,18.80L339.50,14.00M340.99,40.89L345.79,45.69M340.99,45.69L345.79,40.89M347.28,54.15L352.08,58.95M347.28,58.95L352.08,54.15M353.57,62.37L358.37,67.17M353.57,67.17L358.37,62.37M359.86,68.39L364.66,73.19M359.86,73.19L364.66,68.39M366.15,73.08L370.95,77.88M366.15,77.88L370.95,73.08M372.44,76.89L377.24,81.69M372.44,81.69L377.24,76.89M378.73,80.09L383.53,84.89M378.73,84.89L383.53,80.09M385.02,82.86L389.82,87.66M385.02,87.66L389.82,82.86M391.31,85.29L396.11,90.09M391.31,90.09L396.11,85.29M397.60,87.47L402.40,92.27M397.60,92.27L402.40,87.47M403.89,89.44L408.69,94.24M403.89,94.24L408.69,89.44M410.18,91.25L414.98,96.05M410.18,96.05L414.98,91.25M416.47,92.90L421.27,97.70M416.47,97.70L421.27,92.90M422.76,94.43L427.56,99.23M422.76,99.23L427.56,94.43M429.05,95.85L433.85,100.65M429.05,100.65L433.85,95.85M435.35,97.16L440.15,101.96M435.35,101.96L440.15,97.16M441.64,98.38L446.44,103.18M441.64,103.18L446.44,98.38M447.93,99.51L452.73,104.31M447.93,104.31L452.73,99.51M454.22,100.56L459.02,105.36M454.22,105.36L459.02,100.56M460.51,101.54L465.31,106.34M460.51,106.34L465.31,101.54M466.80,102.45L471.60,107.25M466.80,107.25L471.60,102.45M473.09,103.30L477.89,108.10M473.09,108.10L477.89,103.30M479.38,104.09L484.18,108.89M479.38,108.89L484.18,104.09M485.67,104.82L490.47,109.62M485.67,109.62L490.47,104.82M491.96,105.51L496.76,110.31M491.96,110.31L496.76,105.51M498.25,106.14L503.05,110.94M498.25,110.94L503.05,106.14M504.54,106.74L509.34,111.54M504.54,111.54L509.34,106.74M510.83,107.29L515.63,112.09M510.83,112.09L515.63,107.29M517.12,107.80L521.92,112.60M517.12,112.60L521.92,107.80M523.41,108.28L528.21,113.08M523.41,113.08L528.21,108.28M529.70,108.73L534.50,113.53M529.70,113.53L534.50,108.73" class="mk"/>
<text x="501" y="42.2" class="cl">n=1</text>
<text x="501" y="75" class="cl">n=2</text>
<text x="501" y="127" class="cl">n=3</text>
<text x="501" y="211.2" class="cl">n=6</text>
</svg>
</body></html>
